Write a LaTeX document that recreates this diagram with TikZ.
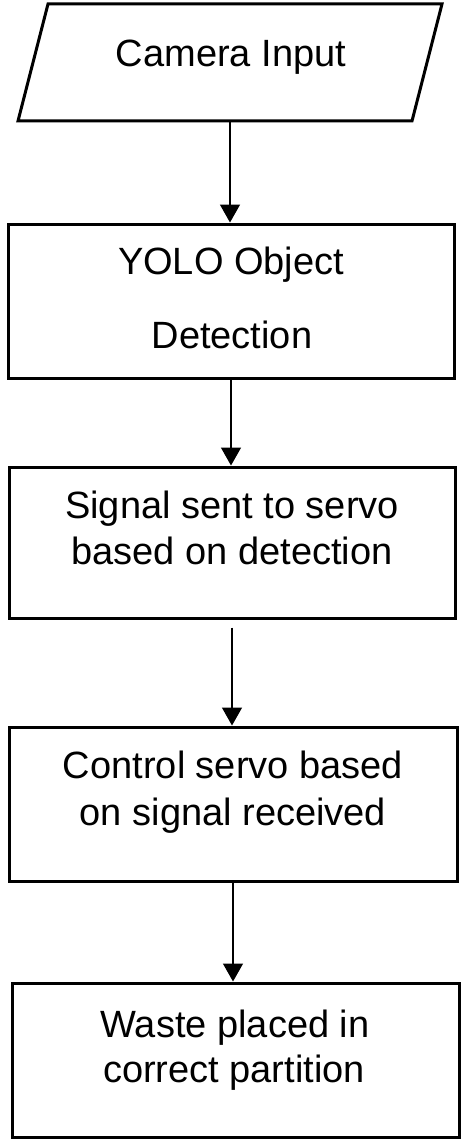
\documentclass[tikz,border=0pt]{standalone}
\usepackage{fontspec}
\setmainfont{Liberation Sans}
\usetikzlibrary{arrows.meta}
\begin{document}
\begin{tikzpicture}[x=1pt,y=-1pt,
  box/.style={draw=black,line width=3pt,rectangle,inner sep=0pt},
  txt/.style={anchor=base,inner sep=0pt,font=\fontsize{38}{46}\selectfont},
  flow/.style={draw=black,line width=1.5pt,-{Triangle[width=20pt,length=18pt]}}]
\useasboundingbox (0,0) rectangle (473,1142);
% input parallelogram
\node[inner sep=0pt,minimum width=364pt,minimum height=117pt] (cam) at (230,62.5) {};
\draw[line width=3pt,line join=miter] (48,4) -- (442,4) -- (412,121) -- (18,121) -- cycle;
\node[txt] (camt) at (231,67) {Camera Input};
% boxes
\node[box,minimum width=446pt,minimum height=154pt] (b2) at (231,301) {};
\node[box,minimum width=446pt,minimum height=151pt] (b3) at (232,542.5) {};
\node[box,minimum width=448pt,minimum height=154pt] (b4) at (233,804) {};
\node[box,minimum width=447pt,minimum height=154pt] (b5) at (235.5,1060) {};
% texts
\node[txt] (t2a) at (231,274) {YOLO Object};
\node[txt] (t2b) at (232,348) {Detection};
\node[txt] (t3a) at (232,518) {Signal sent to servo};
\node[txt] (t3b) at (232,564) {based on detection};
\node[txt] (t4a) at (233,778) {Control servo based};
\node[txt] (t4b) at (233,825) {on signal received};
\node[txt] (t5a) at (235,1037) {Waste placed in};
\node[txt] (t5b) at (234,1082) {correct partition};
% connectors
\draw[flow] (cam.south) -- (b2.north -| cam.south);
\draw[flow] (b2.south) -- (b3.north -| b2.south);
\draw[flow,shorten <=8pt] (b3.south) -- (b4.north -| b3.south);
\draw[flow] (b4.south) -- (b5.north -| b4.south);
\end{tikzpicture}
\end{document}
